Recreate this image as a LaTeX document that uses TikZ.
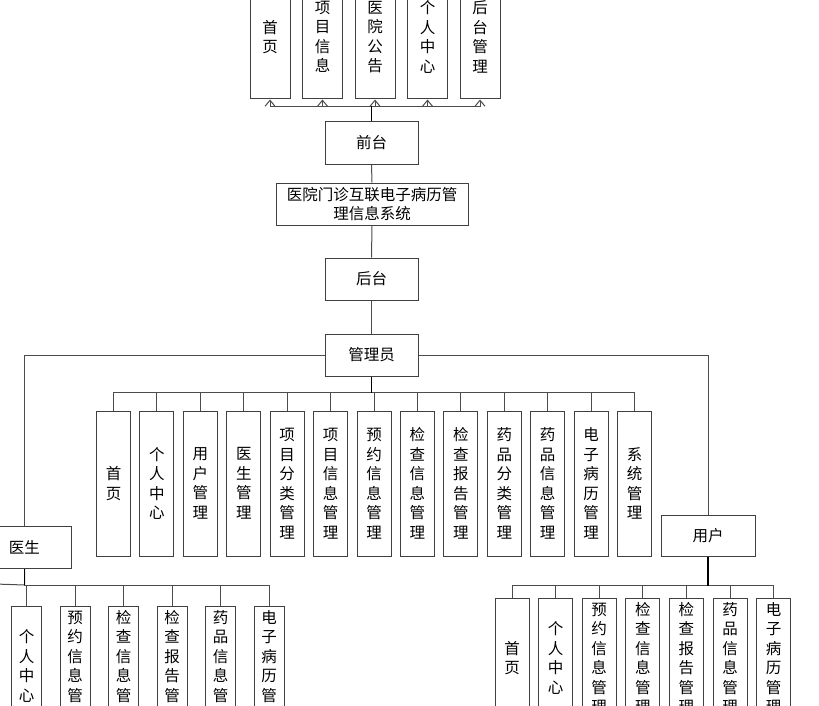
\documentclass[tikz,border=0pt]{standalone}
\usepackage{fontspec}
\newfontfamily\cjk{Noto Sans CJK SC}
\usetikzlibrary{arrows.meta}

\begin{document}
\begin{tikzpicture}[x=1pt,y=-1pt,font=\cjk\fontsize{15.5}{19.5}\selectfont,
  boite/.style={rectangle,draw=black!75,line width=1pt,fill=white,
                minimum width=93pt,minimum height=42pt,inner sep=0pt},
  colonne/.style={rectangle,draw=black!75,line width=1pt,fill=white,
                  minimum width=34pt,inner sep=0pt,align=center},
  trait/.style={draw=black!70,line width=1pt},
  tronc/.style={draw=black,line width=1.8pt}]

  \useasboundingbox (0,0) rectangle (819,706);
  \clip (0,0) rectangle (819,706);

  % tronc central
  \node[boite] (QT) at (371.5,143) {前台};
  \node[boite,minimum width=192pt,align=center] (SYS) at (372,204)
    {医院门诊互联电子病历管\\理信息系统};
  \node[boite] (HT) at (371.5,279) {后台};
  \node[boite] (GLY) at (371.5,355) {管理员};
  \node[boite] (YS) at (24.5,547.5) {医生};
  \node[boite,minimum width=94pt,minimum height=41pt] (YH) at (708,535.5) {用户};

  \draw[trait] (QT.south) -- (SYS.north);
  \draw[trait] (SYS.south) -- (HT.north);
  \draw[trait] (HT.south) -- (GLY.north);
  \draw[trait] (GLY.west) -| (YS.north);
  \draw[trait] (GLY.east) -| (YH.north);

  % front
  \foreach \t [count=\i] in {{首\\页},{项\\目\\信\\息},{医\\院\\公\\告},{个\\人\\中\\心},{后\\台\\管\\理}}
    \node[colonne,minimum width=40pt,minimum height=124pt] (Q\i) at ({270+52.5*(\i-1)},37) {\t};
  \foreach \i in {1,...,5}
    \draw[trait,-{Straight Barb[length=6pt,width=10pt]}] (QT.north) -- +(0,-15) -| (Q\i.south);
  \draw[tronc] (QT.north) -- +(0,-15);

  % administrateur
  \foreach \t [count=\i] in {{首\\页},{个\\人\\中\\心},{用\\户\\管\\理},{医\\生\\管\\理},
      {项\\目\\分\\类\\管\\理},{项\\目\\信\\息\\管\\理},{预\\约\\信\\息\\管\\理},
      {检\\查\\信\\息\\管\\理},{检\\查\\报\\告\\管\\理},{药\\品\\分\\类\\管\\理},
      {药\\品\\信\\息\\管\\理},{电\\子\\病\\历\\管\\理},{系\\统\\管\\理}}
    \node[colonne,minimum height=145pt] (G\i) at ({113.5+43.42*(\i-1)},483.5) {\t};
  \foreach \i in {1,...,13}
    \draw[trait] (GLY.south) -- +(0,16) -| (G\i.north);
  \draw[tronc] (GLY.south) -- +(0,16);

  % medecin
  \foreach \t [count=\i] in {{个\\人\\中\\心},{预\\约\\信\\息\\管\\理},{检\\查\\信\\息\\管\\理},
      {检\\查\\报\\告\\管\\理},{药\\品\\信\\息\\管\\理},{电\\子\\病\\历\\管\\理}}
    \node[colonne,minimum width=30pt,minimum height=120pt] (D\i) at ({26.5+48.5*(\i-1)},666) {\t};
  \coordinate (YSbord) at (-5,584);
  \draw[trait] (YS.south) -- +(0,16) -- (YSbord);
  \foreach \i in {1,...,6}
    \draw[trait] (YS.south) -- +(0,16) -| (D\i.north);
  \draw[tronc] (YS.south) -- +(0,16);

  % utilisateur
  \foreach \t [count=\i] in {{首\\页},{个\\人\\中\\心},{预\\约\\信\\息\\管\\理},{检\\查\\信\\息\\管\\理},
      {检\\查\\报\\告\\管\\理},{药\\品\\信\\息\\管\\理},{电\\子\\病\\历\\管\\理}}
    \node[colonne,minimum height=120pt] (U\i) at ({512+43.6*(\i-1)},658) {\t};
  \foreach \i in {1,...,7}
    \draw[trait] (YH.south) -- +(0,29) -| (U\i.north);
  \draw[tronc] (YH.south) -- +(0,29);
\end{tikzpicture}
\end{document}
